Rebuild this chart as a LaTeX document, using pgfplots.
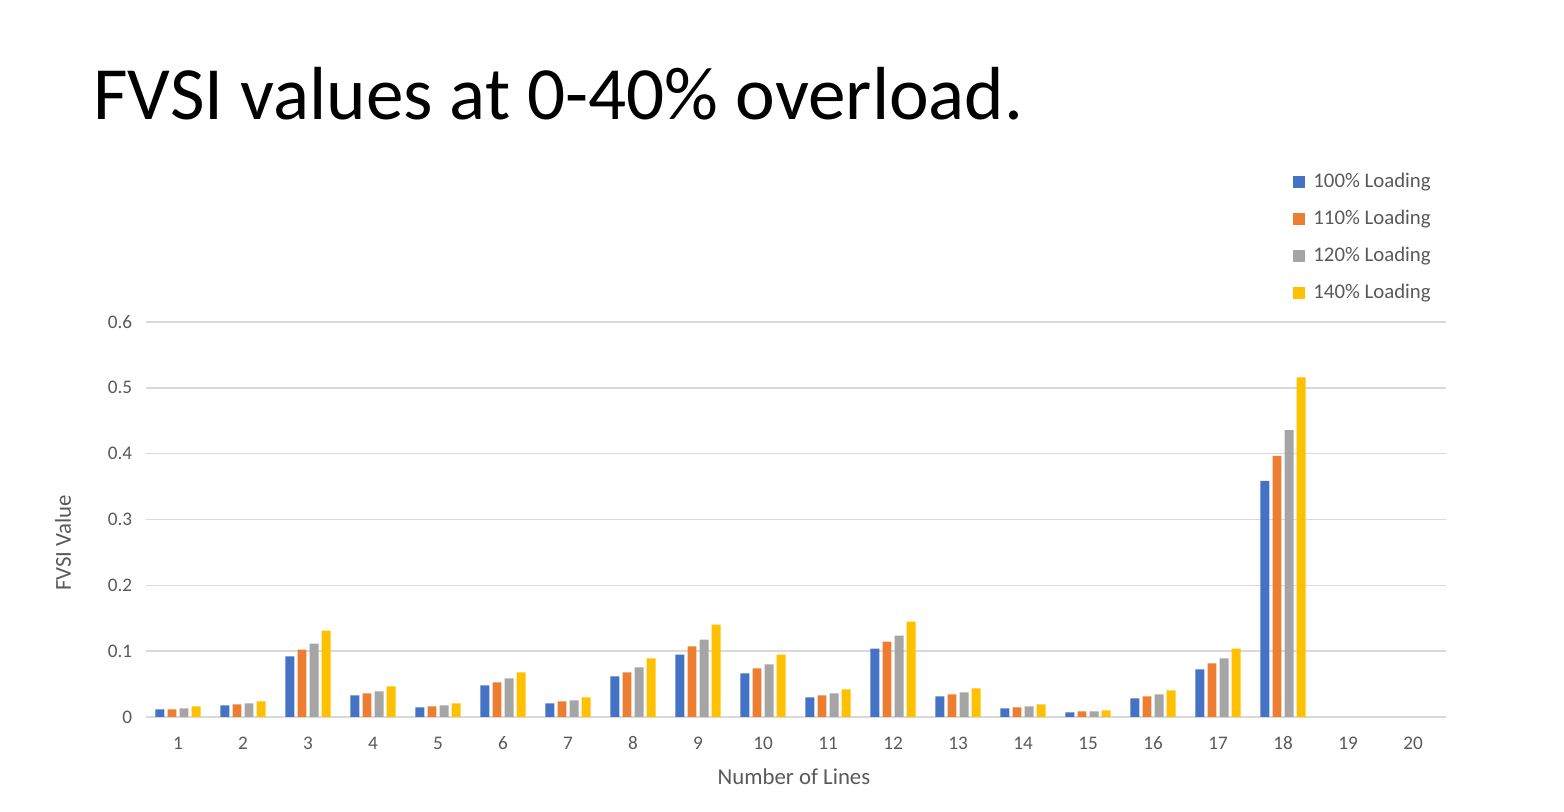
\documentclass[border=0pt]{standalone}
\usepackage{fontspec}
\setmainfont{Carlito}
\usepackage{pgfplots}
\pgfplotsset{compat=1.18}
\definecolor{cb}{HTML}{4472C4}
\definecolor{co}{HTML}{ED7D31}
\definecolor{cg}{HTML}{A5A5A5}
\definecolor{cy}{HTML}{FFC000}
\definecolor{tx}{HTML}{595959}
\definecolor{gl}{HTML}{D9D9D9}
\begin{document}
\begin{tikzpicture}
\path[use as bounding box] (0pt,0pt) rectangle (782pt,406pt);
\node[anchor=base west, font=\fontsize{37.6}{44}\selectfont, inner sep=0pt] at (46.5pt,346pt) {FVSI values at 0-40\% overload.};
\begin{axis}[
  at={(72.75pt,47.5pt)}, anchor=south west,
  scale only axis, width=650pt, height=197.5pt,
  xmin=0.5, xmax=20.5, ymin=0, ymax=0.6,
  xtick={1,...,20}, ytick={0,0.1,...,0.6},
  major tick length=0pt,
  axis line style={draw=none},
  ymajorgrids, grid style={gl, line width=0.8pt},
  /pgf/number format/assume math mode=true,
  yticklabel style={font=\fontsize{9.6}{11}\selectfont, text=tx, inner sep=0pt, xshift=-6.5pt},
  xticklabel style={font=\fontsize{9.6}{11}\selectfont, text=tx, inner sep=0pt, anchor=base, yshift=-16.5pt},
  y tick label style={/pgf/number format/.cd, fixed, precision=1},
  ybar, bar width=0.138,
  legend style={at={(0.8827,1.377)}, anchor=north west, draw=none, fill=none, inner sep=0pt,
    row sep=9.7pt, font=\fontsize{10.4}{12}\selectfont, text=tx, nodes={inner sep=0pt}},
  legend cell align=left,
  legend image code/.code={\fill[#1] (0pt,-3pt) rectangle (6pt,3pt); \path (10pt,0pt);},
  legend columns=1,
]
\addplot[fill=cb, draw=none, bar shift=-0.2775] coordinates {
(1,0.0116) (2,0.0177) (3,0.0919) (4,0.0328) (5,0.0146) (6,0.048) (7,0.0207) (8,0.0616) (9,0.0949)
(10,0.0662) (11,0.0298) (12,0.104) (13,0.0313) (14,0.0131) (15,0.0071) (16,0.0283) (17,0.0722) (18,0.3586)};
\addplot[fill=co, draw=none, bar shift=-0.0925] coordinates {
(1,0.0116) (2,0.0192) (3,0.1025) (4,0.0359) (5,0.0162) (6,0.0525) (7,0.0237) (8,0.0677) (9,0.1071)
(10,0.0737) (11,0.0328) (12,0.1146) (13,0.0343) (14,0.0146) (15,0.0086) (16,0.0313) (17,0.0813) (18,0.3965)};
\addplot[fill=cg, draw=none, bar shift=0.0925] coordinates {
(1,0.0131) (2,0.0207) (3,0.1116) (4,0.0389) (5,0.0177) (6,0.0586) (7,0.0253) (8,0.0753) (9,0.1177)
(10,0.0798) (11,0.0359) (12,0.1237) (13,0.0374) (14,0.0162) (15,0.0086) (16,0.0343) (17,0.0889) (18,0.4359)};
\addplot[fill=cy, draw=none, bar shift=0.2775] coordinates {
(1,0.0162) (2,0.0237) (3,0.1313) (4,0.0465) (5,0.0207) (6,0.0677) (7,0.0298) (8,0.0889) (9,0.1404)
(10,0.0949) (11,0.0419) (12,0.145) (13,0.0434) (14,0.0192) (15,0.0101) (16,0.0404) (17,0.104) (18,0.516)};
\legend{100\% Loading, 110\% Loading, 120\% Loading, 140\% Loading}
\end{axis}
\node[rotate=90, font=\fontsize{11.4}{13}\selectfont, text=tx, inner sep=0pt] at (31.5pt,134.5pt) {FVSI Value};
\node[font=\fontsize{11.4}{13}\selectfont, text=tx, inner sep=0pt] at (397pt,17.5pt) {Number of Lines};
\end{tikzpicture}
\end{document}
